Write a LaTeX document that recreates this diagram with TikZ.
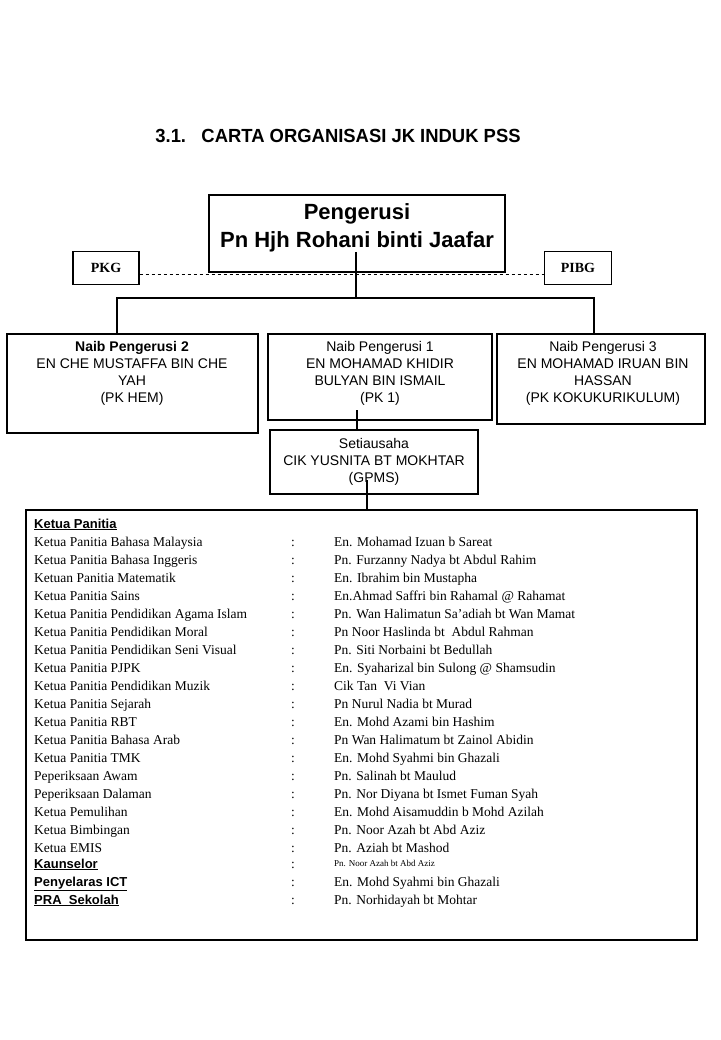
\documentclass[tikz,border=0pt]{standalone}
\usepackage{fontspec}
\setmainfont{Liberation Serif}
\newfontfamily\arialfont{Liberation Sans}
\usetikzlibrary{positioning}

\begin{document}
\begin{tikzpicture}[x=1pt,y=-1pt]
  \tikzstyle{box}   = [draw=black,line width=1.2pt,inner sep=0pt]
  \tikzstyle{btext} = [align=center,font=\arialfont\fontsize{14}{17}\selectfont]
  \tikzstyle{row}   = [anchor=base west,inner sep=0pt,font=\fontsize{13.5}{15}\selectfont]
  \tikzstyle{rowS}  = [anchor=base west,inner sep=0pt,font=\arialfont\bfseries\fontsize{13}{15}\selectfont]
  \tikzstyle{link}  = [line width=1.2pt]
  \useasboundingbox (0,0) rectangle (720,1040);
  % title
  \node[inner sep=0pt,font=\arialfont\bfseries\fontsize{19}{21}\selectfont,xscale=0.97] (title) at (338,136) {3.1.\ \ \ CARTA ORGANISASI JK INDUK PSS};
  % boxes
  \draw[box] (209,195) rectangle (505,272);
  \node[align=center,font=\arialfont\bfseries\fontsize{22}{28}\selectfont] (peng) at (357,228) {Pengerusi\\Pn Hjh Rohani binti Jaafar};
  \node[box,minimum width=66pt,minimum height=33pt,font=\bfseries\fontsize{14}{16}\selectfont] (pkg) at (106,268) {PKG};
  \node[box,minimum width=67pt,minimum height=33pt,font=\bfseries\fontsize{14}{16}\selectfont] (pibg) at (578,268) {PIBG};
  \draw[dashed,line width=0.9pt] (pkg.east |- 0,274) -- (pibg.west |- 0,274);
  \node[box,minimum width=251pt,minimum height=99pt] (np2) at (132.5,383.5) {};
  \node[box,minimum width=224pt,minimum height=86pt] (np1) at (380,377) {};
  \node[box,minimum width=208pt,minimum height=90pt] (np3) at (601,379) {};
  \node[btext,anchor=north] (t2) at (132,338) {\textbf{Naib Pengerusi 2}\\EN CHE MUSTAFFA BIN CHE\\YAH\\(PK HEM)};
  \node[btext,anchor=north] (t1) at (380,338) {Naib Pengerusi 1\\EN MOHAMAD KHIDIR\\BULYAN BIN ISMAIL\\(PK 1)};
  \node[btext,anchor=north] (t3) at (603,338) {Naib Pengerusi 3\\EN MOHAMAD IRUAN BIN\\HASSAN\\(PK KOKUKURIKULUM)};
  \node[box,minimum width=208pt,minimum height=64pt] (sek) at (374,462) {};
  \node[btext] (ts) at (374,462) {Setiausaha\\CIK YUSNITA BT MOKHTAR\\(GPMS)};
  \node[box,minimum width=671pt,minimum height=430pt] (list) at (361.5,725) {};
  % connectors
  \coordinate (top) at (356,252);
  \coordinate (bar) at (356,298);
  \draw[link] (top) -- (bar);
  \draw[link] (np2.north -| 117,0) -- (117,298) -- (594,298) -- (np3.north -| 594,0);
  \draw[link] (357,410) -- (sek.north -| 357,0);
  \draw[link] (367,480) -- (list.north -| 367,0);
  % list
  \node[rowS] (h0) at (34,528) {\underline{Ketua Panitia}};
  \foreach \y/\a/\b in {
    546/Ketua Panitia Bahasa Malaysia/En. Mohamad Izuan b Sareat,
    564/Ketua Panitia Bahasa Inggeris/Pn. Furzanny Nadya bt Abdul Rahim,
    582/Ketuan Panitia Matematik/En. Ibrahim bin Mustapha,
    600/Ketua Panitia Sains/En.Ahmad Saffri bin Rahamal @ Rahamat,
    618/Ketua Panitia Pendidikan Agama Islam/Pn. Wan Halimatun Sa'adiah bt Wan Mamat,
    636/Ketua Panitia Pendidikan Moral/Pn Noor Haslinda bt\ \ Abdul Rahman,
    654/Ketua Panitia Pendidikan Seni Visual/Pn. Siti Norbaini bt Bedullah,
    672/Ketua Panitia PJPK/En. Syaharizal bin Sulong @ Shamsudin,
    690/Ketua Panitia Pendidikan Muzik/Cik Tan\ \ Vi Vian,
    708/Ketua Panitia Sejarah/Pn Nurul Nadia bt Murad,
    726/Ketua Panitia RBT/En. Mohd Azami bin Hashim,
    744/Ketua Panitia Bahasa Arab/Pn Wan Halimatum bt Zainol Abidin,
    762/Ketua Panitia TMK/En. Mohd Syahmi bin Ghazali,
    780/Peperiksaan Awam/Pn. Salinah bt Maulud,
    798/Peperiksaan Dalaman/Pn. Nor Diyana bt Ismet Fuman Syah,
    816/Ketua Pemulihan/En. Mohd Aisamuddin b Mohd Azilah,
    834/Ketua Bimbingan/Pn. Noor Azah bt Abd Aziz,
    852/Ketua EMIS/Pn. Aziah bt Mashod}{
    \node[row] (a\y) at (34,\y) {\a};
    \node[row] (c\y) at (291,\y) {:};
    \node[row] (b\y) at (334,\y) {\b};
  }
  \node[rowS] (a868) at (34,868) {\underline{Kaunselor}};
  \node[row] (c868) at (291,868) {:};
  \node[row,font=\fontsize{9}{10}\selectfont] (b868) at (334,866) {Pn. Noor Azah bt Abd Aziz};
  \node[rowS] (a886) at (34,886) {\underline{Penyelaras ICT}};
  \node[row] (c886) at (291,886) {:};
  \node[row] (b886) at (334,886) {En. Mohd Syahmi bin Ghazali};
  \node[rowS] (a904) at (34,904) {\underline{PRA\ \ Sekolah}};
  \node[row] (c904) at (291,904) {:};
  \node[row] (b904) at (334,904) {Pn. Norhidayah bt Mohtar};
\end{tikzpicture}
\end{document}
